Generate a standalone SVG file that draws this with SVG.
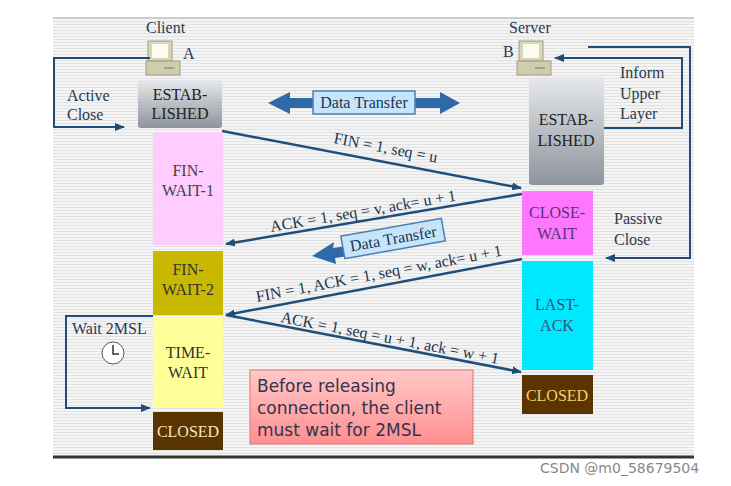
<svg xmlns="http://www.w3.org/2000/svg" width="731" height="486" viewBox="0 0 731 486">
<defs>
<pattern id="str" width="4" height="3" patternUnits="userSpaceOnUse"><rect width="4" height="3" fill="#f4f4f4"/><rect width="4" height="1" fill="#e2e2e2"/></pattern>
<linearGradient id="gr" x1="0" y1="0" x2="0" y2="1"><stop offset="0" stop-color="#e6e8ec"/><stop offset="1" stop-color="#8e949c"/></linearGradient>
<linearGradient id="nt" x1="0" y1="0" x2="0" y2="1"><stop offset="0" stop-color="#ffc8c8"/><stop offset="1" stop-color="#ff8f8f"/></linearGradient>
<marker id="ah" markerWidth="10" markerHeight="8" refX="9" refY="4" orient="auto" markerUnits="userSpaceOnUse"><path d="M0,0 L10,4 L0,8 Z" fill="#1f4e7a"/></marker>
<g id="pc"><rect x="2" y="0" width="24" height="20" fill="#d8d6b8" stroke="#a09e80"/><rect x="6" y="3" width="16" height="14" fill="#fbfbf0"/><rect x="0" y="20" width="34" height="14" fill="#cfcdae" stroke="#a09e80"/><line x1="18" y1="27" x2="28" y2="27" stroke="#777"/></g>
</defs>
<style>
text{font-family:'Liberation Serif','Times New Roman',Times,serif}
.s{font-size:16px;fill:#2a3a50}
.st{font-size:16px;text-anchor:middle}
.m{font-size:16px;fill:#1a3550}
.ln{fill:none;stroke:#1f4e7a;stroke-width:2.5}
.fl{fill:none;stroke:#1f4e7a;stroke-width:2}
</style>
<rect width="731" height="486" fill="#fff"/>
<rect x="53" y="18" width="641" height="440" fill="url(#str)"/>
<line x1="53" y1="18" x2="694" y2="18" stroke="#ccc" stroke-width="2"/>
<line x1="53" y1="457" x2="694" y2="457" stroke="#333" stroke-width="3"/>
<text x="146" y="33" class="s">Client</text>
<text x="509" y="33" class="s">Server</text>
<use href="#pc" x="146" y="41"/>
<use href="#pc" x="517" y="41"/>
<text x="183" y="59" class="s">A</text>
<text x="503" y="57" class="s">B</text>
<g id="connectors">
<polyline class="fl" points="150,58 54,58 54,127 124,127" marker-end="url(#ah)"/>
<polyline class="fl" points="588,47 690,47 690,258 606,258" marker-end="url(#ah)"/>
<polyline class="fl" points="604,128 682,128 682,58 555,58" marker-end="url(#ah)"/>
<polyline class="fl" points="153,316 66,316 66,408 150,408" marker-end="url(#ah)"/>
<line class="ln" x1="222" y1="131" x2="521" y2="188" marker-end="url(#ah)"/>
<line class="ln" x1="522" y1="194" x2="226" y2="244" marker-end="url(#ah)"/>
<line class="ln" x1="522" y1="259" x2="226" y2="315" marker-end="url(#ah)"/>
<line class="ln" x1="226" y1="315" x2="521" y2="372" marker-end="url(#ah)"/>
<path d="M268,103 L290,92 L290,98 L440,98 L440,92 L460,103 L440,114 L440,108 L290,108 L290,114 Z" fill="#2e6aa8"/>
<path d="M312,256 L334,242 L333,248 L360,244 L362,254 L335,258 L336,264 Z" fill="#2e6aa8"/>
</g>
<g id="dt1"><rect x="313" y="91" width="102" height="23" fill="#c6e4fa" stroke="#4f7fb0" stroke-width="1.5"/><text x="364" y="108" class="st" fill="#1a3550">Data Transfer</text></g>
<g id="dt2" transform="rotate(-10 393 238)"><rect x="342" y="227" width="102" height="23" fill="#c6e4fa" stroke="#4f7fb0" stroke-width="1.5"/><text x="393" y="244" class="st" fill="#1a3550">Data Transfer</text></g>
<g id="c-est"><rect x="138" y="80" width="84" height="48" rx="3" fill="url(#gr)"/><text x="180" y="100" class="st" fill="#222">ESTAB-</text><text x="180" y="119" class="st" fill="#222">LISHED</text></g>
<g id="c-fw1"><rect x="153" y="132" width="70" height="113" fill="#ffccff"/><text x="188" y="176" class="st" fill="#444">FIN-</text><text x="188" y="196" class="st" fill="#444">WAIT-1</text></g>
<g id="c-fw2"><rect x="153" y="251" width="70" height="64" fill="#c8b800"/><text x="188" y="275" class="st" fill="#333">FIN-</text><text x="188" y="295" class="st" fill="#333">WAIT-2</text></g>
<g id="c-tw"><rect x="153" y="317" width="70" height="91" fill="#ffff99"/><text x="188" y="358" class="st" fill="#333">TIME-</text><text x="188" y="378" class="st" fill="#333">WAIT</text></g>
<g id="c-cl"><rect x="153" y="412" width="70" height="38" fill="#5a3500"/><text x="188" y="437" class="st" fill="#f3e6c8">CLOSED</text></g>
<g id="s-est"><rect x="529" y="77" width="75" height="108" rx="3" fill="url(#gr)"/><text x="566" y="125" class="st" fill="#222">ESTAB-</text><text x="566" y="146" class="st" fill="#222">LISHED</text></g>
<g id="s-cw"><rect x="522" y="191" width="71" height="64" fill="#ff77ff"/><text x="557" y="218" class="st" fill="#553377">CLOSE-</text><text x="557" y="239" class="st" fill="#553377">WAIT</text></g>
<g id="s-la"><rect x="522" y="261" width="71" height="109" fill="#00e8ff"/><text x="557" y="310" class="st" fill="#335577">LAST-</text><text x="557" y="331" class="st" fill="#335577">ACK</text></g>
<g id="s-cl"><rect x="522" y="375" width="71" height="39" fill="#5a3500"/><text x="557" y="401" class="st" fill="#f0d070">CLOSED</text></g>
<text x="67" y="101" class="s">Active</text><text x="67" y="120" class="s">Close</text>
<text x="620" y="78" class="s">Inform</text><text x="620" y="99" class="s">Upper</text><text x="620" y="119" class="s">Layer</text>
<text x="614" y="224" class="s">Passive</text><text x="614" y="245" class="s">Close</text>
<text x="72" y="334" class="s" font-size="15">Wait 2MSL</text>
<g id="clock"><circle cx="113" cy="353" r="11" fill="#fff" stroke="#555"/><path d="M113,345 V354 H119" fill="none" stroke="#333" stroke-width="1.5"/></g>
<text class="m" transform="translate(333,143) rotate(10.8)">FIN = 1, seq = u</text>
<text class="m" transform="translate(271,232) rotate(-9.6)">ACK = 1, seq = v, ack= u + 1</text>
<text class="m" transform="translate(257,302) rotate(-10.7)">FIN = 1, ACK = 1, seq = w, ack= u + 1</text>
<text class="m" transform="translate(280,322) rotate(10.9)">ACK = 1, seq = u + 1, ack = w + 1</text>
<g id="note"><rect x="250" y="370" width="223" height="74" fill="url(#nt)" stroke="#e07070"/><text style="font-family:'DejaVu Sans',sans-serif" font-size="17" fill="#33334d"><tspan x="257" y="392">Before releasing</tspan><tspan x="257" y="414">connection, the client</tspan><tspan x="257" y="436">must wait for 2MSL</tspan></text></g>
<text x="540" y="473" style="font-family:'DejaVu Sans',sans-serif" font-size="14" fill="#888">CSDN @m0_58679504</text>
</svg>
